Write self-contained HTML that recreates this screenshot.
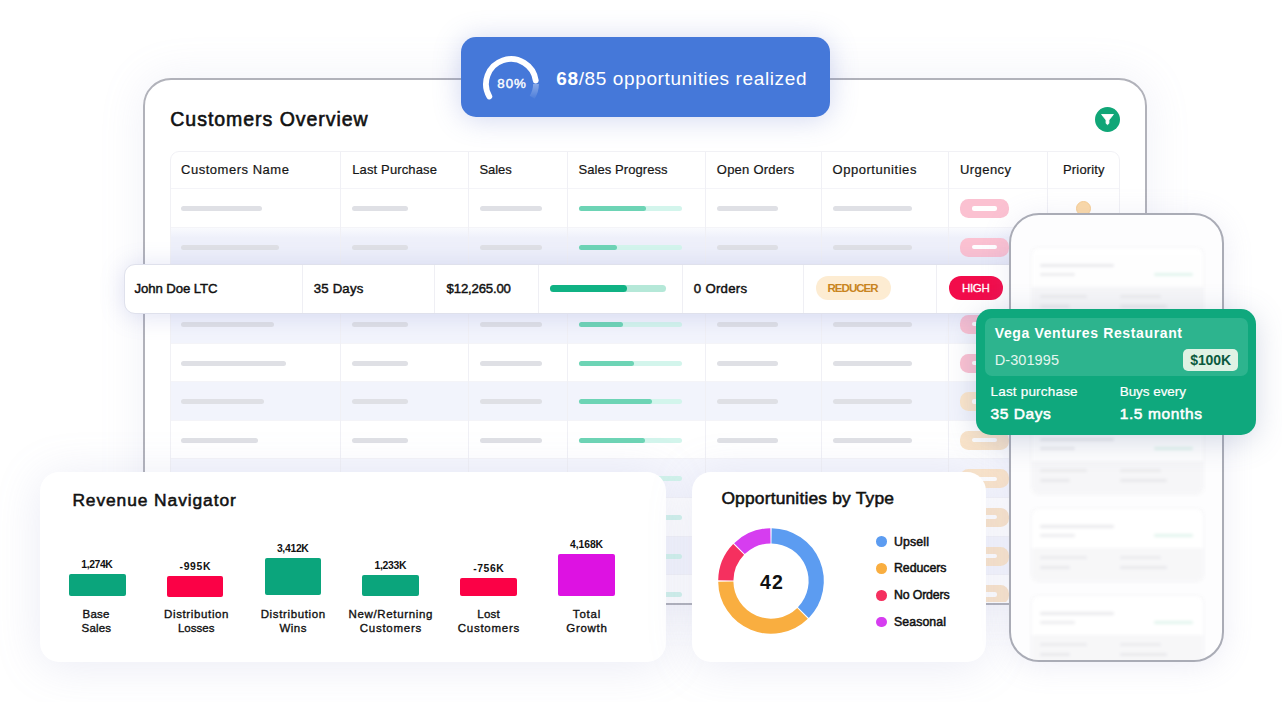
<!DOCTYPE html>
<html>
<head>
<meta charset="utf-8">
<title>Dashboard</title>
<style>
*{box-sizing:border-box;margin:0;padding:0}
html,body{width:1282px;height:702px;overflow:hidden;background:#fff}
body{font-family:"Liberation Sans",sans-serif;color:#111;position:relative}
.a,.t{position:absolute}
.t{white-space:nowrap;line-height:normal}
#main{left:143px;top:77.5px;width:1003.8px;height:527px;border:2.5px solid #b1b2ba;border-radius:28px;background:#fff;box-shadow:0 0 45px rgba(150,155,205,.14)}
#clip{left:145.5px;top:80px;width:998.8px;height:522px;border-radius:25px;overflow:hidden}
#tbl{left:24px;top:70.5px;width:950px;height:470px;border:1px solid #f1f1f5;border-radius:9px 9px 0 0;overflow:hidden;background:#fff}
.row{position:absolute;left:0;width:950px;height:38.6px}
.alt{background:#f2f4fc}
.vl{position:absolute;top:0;width:1px;height:470px;background:#f0f0f5}
.hl{position:absolute;left:0;width:950px;height:1px;background:#f4f4f8}
.sk{position:absolute;height:5px;border-radius:3px;background:#dfe0e5}
.pt{position:absolute;height:5px;border-radius:3px;background:#d3f5ec}
.pf{position:absolute;height:5px;border-radius:3px;background:#6dd4b5}
.up{position:absolute;width:49px;height:19px;border-radius:8.5px}
.up i{position:absolute;left:11.5px;top:7.4px;width:25px;height:4.2px;border-radius:2.1px;background:#fff}
.card{position:absolute;background:#fff;border-radius:19px;box-shadow:0 4px 46px rgba(140,145,200,.18)}
</style>
</head>
<body>

<div id="main" class="a"></div>
<div id="clip" class="a">
<div id="tbl" class="a">
<div class="row" style="top:37.20px"></div>
<div class="row alt" style="top:75.80px;background:linear-gradient(#fafbfe,#eef0fa 28%)"></div>
<div class="row" style="top:114.40px"></div>
<div class="row alt" style="top:153.00px"></div>
<div class="row" style="top:191.60px"></div>
<div class="row alt" style="top:230.20px"></div>
<div class="row" style="top:268.80px"></div>
<div class="row alt" style="top:307.40px;background:#f6f7fd"></div>
<div class="row" style="top:346.00px"></div>
<div class="row alt" style="top:384.60px;background:#f6f7fd"></div>
<div class="row" style="top:423.20px"></div>
<div class="row alt" style="top:461.80px;background:#f6f7fd"></div>
<div class="hl" style="top:36.70px"></div>
<div class="hl" style="top:75.30px"></div>
<div class="hl" style="top:113.90px"></div>
<div class="hl" style="top:152.50px"></div>
<div class="hl" style="top:191.10px"></div>
<div class="hl" style="top:229.70px"></div>
<div class="hl" style="top:268.30px"></div>
<div class="hl" style="top:306.90px"></div>
<div class="hl" style="top:345.50px"></div>
<div class="hl" style="top:384.10px"></div>
<div class="hl" style="top:422.70px"></div>
<div class="hl" style="top:461.30px"></div>
<div class="vl" style="left:169.40px"></div>
<div class="vl" style="left:297.40px"></div>
<div class="vl" style="left:396.20px"></div>
<div class="vl" style="left:534.20px"></div>
<div class="vl" style="left:650.40px"></div>
<div class="vl" style="left:777.20px"></div>
<div class="vl" style="left:876.20px"></div>
<div class="sk" style="left:10.5px;top:54.60px;width:81px"></div>
<div class="sk" style="left:181.7px;top:54.60px;width:56px"></div>
<div class="sk" style="left:309.1px;top:54.60px;width:62px"></div>
<div class="pt" style="left:408.0px;top:54.60px;width:103px"></div>
<div class="pf" style="left:408.0px;top:54.60px;width:67px"></div>
<div class="sk" style="left:546.3px;top:54.60px;width:61.5px"></div>
<div class="sk" style="left:662.0px;top:54.60px;width:79px"></div>
<div class="up" style="left:789.5px;top:47.60px;background:#fbc1d1"><i></i></div>
<div class="a" style="left:905.4px;top:49.60px;width:15px;height:15px;border-radius:50%;background:#fbd9a8;border:1px solid #f6cd93"></div>
<div class="sk" style="left:10.5px;top:93.20px;width:97.5px"></div>
<div class="sk" style="left:181.7px;top:93.20px;width:56px"></div>
<div class="sk" style="left:309.1px;top:93.20px;width:62px"></div>
<div class="pt" style="left:408.0px;top:93.20px;width:103px"></div>
<div class="pf" style="left:408.0px;top:93.20px;width:38.5px"></div>
<div class="sk" style="left:546.3px;top:93.20px;width:61.5px"></div>
<div class="sk" style="left:662.0px;top:93.20px;width:79px"></div>
<div class="up" style="left:789.5px;top:86.20px;background:#fbc1d1"><i></i></div>
<div class="a" style="left:905.4px;top:88.20px;width:15px;height:15px;border-radius:50%;background:#fbd9a8;border:1px solid #f6cd93"></div>
<div class="sk" style="left:10.5px;top:170.40px;width:93.2px"></div>
<div class="sk" style="left:181.7px;top:170.40px;width:56px"></div>
<div class="sk" style="left:309.1px;top:170.40px;width:62px"></div>
<div class="pt" style="left:408.0px;top:170.40px;width:103px"></div>
<div class="pf" style="left:408.0px;top:170.40px;width:44px"></div>
<div class="sk" style="left:546.3px;top:170.40px;width:61.5px"></div>
<div class="sk" style="left:662.0px;top:170.40px;width:79px"></div>
<div class="up" style="left:789.5px;top:163.40px;background:#fbc1d1"><i></i></div>
<div class="a" style="left:905.4px;top:165.40px;width:15px;height:15px;border-radius:50%;background:#fbd9a8;border:1px solid #f6cd93"></div>
<div class="sk" style="left:10.5px;top:209.00px;width:104.5px"></div>
<div class="sk" style="left:181.7px;top:209.00px;width:56px"></div>
<div class="sk" style="left:309.1px;top:209.00px;width:62px"></div>
<div class="pt" style="left:408.0px;top:209.00px;width:103px"></div>
<div class="pf" style="left:408.0px;top:209.00px;width:55px"></div>
<div class="sk" style="left:546.3px;top:209.00px;width:61.5px"></div>
<div class="sk" style="left:662.0px;top:209.00px;width:79px"></div>
<div class="up" style="left:789.5px;top:202.00px;background:#fbc1d1"><i></i></div>
<div class="a" style="left:905.4px;top:204.00px;width:15px;height:15px;border-radius:50%;background:#fbd9a8;border:1px solid #f6cd93"></div>
<div class="sk" style="left:10.5px;top:247.60px;width:82.6px"></div>
<div class="sk" style="left:181.7px;top:247.60px;width:56px"></div>
<div class="sk" style="left:309.1px;top:247.60px;width:62px"></div>
<div class="pt" style="left:408.0px;top:247.60px;width:103px"></div>
<div class="pf" style="left:408.0px;top:247.60px;width:73px"></div>
<div class="sk" style="left:546.3px;top:247.60px;width:61.5px"></div>
<div class="sk" style="left:662.0px;top:247.60px;width:79px"></div>
<div class="up" style="left:789.5px;top:240.60px;background:#fbe5ca"><i></i></div>
<div class="a" style="left:905.4px;top:242.60px;width:15px;height:15px;border-radius:50%;background:#fbd9a8;border:1px solid #f6cd93"></div>
<div class="sk" style="left:10.5px;top:286.20px;width:77px"></div>
<div class="sk" style="left:181.7px;top:286.20px;width:56px"></div>
<div class="sk" style="left:309.1px;top:286.20px;width:62px"></div>
<div class="pt" style="left:408.0px;top:286.20px;width:103px"></div>
<div class="pf" style="left:408.0px;top:286.20px;width:66px"></div>
<div class="sk" style="left:546.3px;top:286.20px;width:61.5px"></div>
<div class="sk" style="left:662.0px;top:286.20px;width:79px"></div>
<div class="up" style="left:789.5px;top:279.20px;background:#fbe5ca"><i></i></div>
<div class="a" style="left:905.4px;top:281.20px;width:15px;height:15px;border-radius:50%;background:#fbd9a8;border:1px solid #f6cd93"></div>
<div class="sk" style="left:10.5px;top:324.80px;width:88px"></div>
<div class="sk" style="left:181.7px;top:324.80px;width:56px"></div>
<div class="sk" style="left:309.1px;top:324.80px;width:62px"></div>
<div class="pt" style="left:408.0px;top:324.80px;width:103px"></div>
<div class="pf" style="left:408.0px;top:324.80px;width:50px"></div>
<div class="sk" style="left:546.3px;top:324.80px;width:61.5px"></div>
<div class="sk" style="left:662.0px;top:324.80px;width:79px"></div>
<div class="up" style="left:789.5px;top:317.80px;background:#fbe5ca"><i></i></div>
<div class="a" style="left:905.4px;top:319.80px;width:15px;height:15px;border-radius:50%;background:#fbd9a8;border:1px solid #f6cd93"></div>
<div class="sk" style="left:10.5px;top:363.40px;width:95px"></div>
<div class="sk" style="left:181.7px;top:363.40px;width:56px"></div>
<div class="sk" style="left:309.1px;top:363.40px;width:62px"></div>
<div class="pt" style="left:408.0px;top:363.40px;width:103px"></div>
<div class="pf" style="left:408.0px;top:363.40px;width:62px"></div>
<div class="sk" style="left:546.3px;top:363.40px;width:61.5px"></div>
<div class="sk" style="left:662.0px;top:363.40px;width:79px"></div>
<div class="up" style="left:789.5px;top:356.40px;background:#fbe5ca"><i></i></div>
<div class="a" style="left:905.4px;top:358.40px;width:15px;height:15px;border-radius:50%;background:#fbd9a8;border:1px solid #f6cd93"></div>
<div class="sk" style="left:10.5px;top:402.00px;width:80px"></div>
<div class="sk" style="left:181.7px;top:402.00px;width:56px"></div>
<div class="sk" style="left:309.1px;top:402.00px;width:62px"></div>
<div class="pt" style="left:408.0px;top:402.00px;width:103px"></div>
<div class="pf" style="left:408.0px;top:402.00px;width:45px"></div>
<div class="sk" style="left:546.3px;top:402.00px;width:61.5px"></div>
<div class="sk" style="left:662.0px;top:402.00px;width:79px"></div>
<div class="up" style="left:789.5px;top:395.00px;background:#fbe5ca"><i></i></div>
<div class="a" style="left:905.4px;top:397.00px;width:15px;height:15px;border-radius:50%;background:#fbd9a8;border:1px solid #f6cd93"></div>
<div class="sk" style="left:10.5px;top:440.60px;width:92px"></div>
<div class="sk" style="left:181.7px;top:440.60px;width:56px"></div>
<div class="sk" style="left:309.1px;top:440.60px;width:62px"></div>
<div class="pt" style="left:408.0px;top:440.60px;width:103px"></div>
<div class="pf" style="left:408.0px;top:440.60px;width:70px"></div>
<div class="sk" style="left:546.3px;top:440.60px;width:61.5px"></div>
<div class="sk" style="left:662.0px;top:440.60px;width:79px"></div>
<div class="up" style="left:789.5px;top:433.60px;background:#fbe5ca"><i></i></div>
<div class="a" style="left:905.4px;top:435.60px;width:15px;height:15px;border-radius:50%;background:#fbd9a8;border:1px solid #f6cd93"></div>
<div class="sk" style="left:10.5px;top:479.20px;width:85px"></div>
<div class="sk" style="left:181.7px;top:479.20px;width:56px"></div>
<div class="sk" style="left:309.1px;top:479.20px;width:62px"></div>
<div class="pt" style="left:408.0px;top:479.20px;width:103px"></div>
<div class="pf" style="left:408.0px;top:479.20px;width:52px"></div>
<div class="sk" style="left:546.3px;top:479.20px;width:61.5px"></div>
<div class="sk" style="left:662.0px;top:479.20px;width:79px"></div>
<div class="up" style="left:789.5px;top:472.20px;background:#fbe5ca"><i></i></div>
<div class="a" style="left:905.4px;top:474.20px;width:15px;height:15px;border-radius:50%;background:#fbd9a8;border:1px solid #f6cd93"></div>
</div>
</div>
<div class="t" style="left:170.30px;top:107.74px;font-size:19.5px;font-weight:normal;letter-spacing:0.967px;color:#111;-webkit-text-stroke:0.6px #111;">Customers Overview</div>
<div class="t" style="left:181.00px;top:162.03px;font-size:13px;font-weight:normal;letter-spacing:0.520px;color:#161616;-webkit-text-stroke:0.2px #161616;">Customers Name</div>
<div class="t" style="left:352.20px;top:162.03px;font-size:13px;font-weight:normal;letter-spacing:0.141px;color:#161616;-webkit-text-stroke:0.2px #161616;">Last Purchase</div>
<div class="t" style="left:479.40px;top:162.03px;font-size:13px;font-weight:normal;letter-spacing:-0.055px;color:#161616;-webkit-text-stroke:0.2px #161616;">Sales</div>
<div class="t" style="left:578.50px;top:162.03px;font-size:13px;font-weight:normal;letter-spacing:0.073px;color:#161616;-webkit-text-stroke:0.2px #161616;">Sales Progress</div>
<div class="t" style="left:716.80px;top:162.03px;font-size:13px;font-weight:normal;letter-spacing:0.236px;color:#161616;-webkit-text-stroke:0.2px #161616;">Open Orders</div>
<div class="t" style="left:832.50px;top:162.03px;font-size:13px;font-weight:normal;letter-spacing:0.548px;color:#161616;-webkit-text-stroke:0.2px #161616;">Opportunities</div>
<div class="t" style="left:960.00px;top:162.03px;font-size:13px;font-weight:normal;letter-spacing:0.432px;color:#161616;-webkit-text-stroke:0.2px #161616;">Urgency</div>
<div class="t" style="left:1063.00px;top:162.03px;font-size:13px;font-weight:normal;letter-spacing:0.165px;color:#161616;-webkit-text-stroke:0.2px #161616;">Priority</div>
<div class="a" style="left:1095px;top:106.8px;width:25px;height:25px;border-radius:50%;background:#10a677"></div>
<svg class="a" style="left:1095px;top:106.8px" width="25" height="25" viewBox="0 0 25 25"><path d="M6.6 7.5 H18.4 L13.9 13 V16.4 L12.5 17.6 L11.1 16.4 V13 Z" fill="#fff" stroke="#fff" stroke-width="0.9" stroke-linejoin="round"/></svg>
<div class="a" style="left:123.5px;top:263.6px;width:900px;height:50.3px;background:#fff;border:1px solid #dfe1ec;border-radius:11px;box-shadow:0 2px 24px rgba(110,120,200,.22)"></div>
<div class="a" style="left:301.5px;top:264.6px;width:1px;height:48.3px;background:#efeff4"></div>
<div class="a" style="left:433.5px;top:264.6px;width:1px;height:48.3px;background:#efeff4"></div>
<div class="a" style="left:537.5px;top:264.6px;width:1px;height:48.3px;background:#efeff4"></div>
<div class="a" style="left:681.5px;top:264.6px;width:1px;height:48.3px;background:#efeff4"></div>
<div class="a" style="left:803.1px;top:264.6px;width:1px;height:48.3px;background:#efeff4"></div>
<div class="a" style="left:936.3px;top:264.6px;width:1px;height:48.3px;background:#efeff4"></div>
<div class="t" style="left:134.40px;top:280.64px;font-size:13.2px;font-weight:normal;letter-spacing:-0.085px;color:#111;-webkit-text-stroke:0.45px #111;">John Doe LTC</div>
<div class="t" style="left:313.80px;top:280.64px;font-size:13.2px;font-weight:normal;letter-spacing:0.179px;color:#111;-webkit-text-stroke:0.45px #111;">35 Days</div>
<div class="t" style="left:446.60px;top:280.64px;font-size:13.2px;font-weight:normal;letter-spacing:-0.185px;color:#111;-webkit-text-stroke:0.45px #111;">$12,265.00</div>
<div class="t" style="left:693.80px;top:280.64px;font-size:13.2px;font-weight:normal;letter-spacing:0.293px;color:#111;-webkit-text-stroke:0.45px #111;">0 Orders</div>
<div class="a" style="left:549.5px;top:284.6px;width:116px;height:7.4px;border-radius:4px;background:#b5e8d8"></div>
<div class="a" style="left:549.5px;top:284.6px;width:77px;height:7.4px;border-radius:4px;background:#10b284"></div>
<div class="a" style="left:815.5px;top:276.4px;width:75.4px;height:23.6px;border-radius:12px;background:#fdecd2"></div>
<div class="t" style="left:827.50px;top:281.71px;font-size:11.5px;font-weight:bold;letter-spacing:-0.961px;color:#c88420;">REDUCER</div>
<div class="a" style="left:948.5px;top:276.2px;width:54.6px;height:24px;border-radius:12px;background:#f20c4b"></div>
<div class="t" style="left:962.00px;top:281.91px;font-size:11.5px;font-weight:normal;letter-spacing:-0.350px;color:#fff;-webkit-text-stroke:0.3px #fff;">HIGH</div>
<div class="a" style="left:461px;top:37px;width:369px;height:80px;border-radius:15px;background:#4578d9;box-shadow:0 2px 28px rgba(90,110,200,.28)"></div>
<svg class="a" style="left:480px;top:53px" width="62" height="62" viewBox="0 0 62 62">
<path d="M9.35 43.5 A25 25 0 1 1 55.76 27.52" fill="none" stroke="#fff" stroke-width="5.8" stroke-linecap="round"/>
<defs><linearGradient id="gf" x1="0" y1="30" x2="0" y2="46" gradientUnits="userSpaceOnUse"><stop offset="0" stop-color="#fff" stop-opacity=".38"/><stop offset="1" stop-color="#fff" stop-opacity=".04"/></linearGradient></defs><path d="M56 31 A25 25 0 0 1 52.2 44.2" fill="none" stroke="url(#gf)" stroke-width="5.8" stroke-linecap="butt"/>
</svg>
<div class="t" style="left:497.30px;top:75.95px;font-size:13.3px;font-weight:normal;letter-spacing:0.990px;color:#fff;-webkit-text-stroke:0.4px #fff;">80%</div>
<div class="t" style="left:556.3px;top:67.6px;font-size:19px;color:#fff;letter-spacing:0.62px"><b>68</b>/85 opportunities realized</div>
<div class="card" style="left:40px;top:472px;width:625.5px;height:190px"></div>
<div class="t" style="left:72.40px;top:489.67px;font-size:17.4px;font-weight:normal;letter-spacing:0.909px;color:#111;-webkit-text-stroke:0.55px #111;">Revenue Navigator</div>
<div class="a" style="left:68.6px;top:573.5px;width:57.0px;height:22.1px;background:#0ba57c;border-radius:2px"></div>
<div class="t" style="left:81.35px;top:558.62px;font-size:10.4px;font-weight:bold;letter-spacing:-0.407px;color:#111;">1,274K</div>
<div class="t" style="left:82.50px;top:607.71px;font-size:11.5px;font-weight:normal;letter-spacing:0.263px;color:#111;-webkit-text-stroke:0.35px #111;">Base</div>
<div class="t" style="left:81.55px;top:621.61px;font-size:11.5px;font-weight:normal;letter-spacing:0.183px;color:#111;-webkit-text-stroke:0.35px #111;">Sales</div>
<div class="a" style="left:166.7px;top:576px;width:56.7px;height:20.5px;background:#fb0146;border-radius:2px"></div>
<div class="t" style="left:179.55px;top:561.12px;font-size:10.4px;font-weight:bold;letter-spacing:0.668px;color:#111;">-995K</div>
<div class="t" style="left:164.00px;top:607.71px;font-size:11.5px;font-weight:normal;letter-spacing:0.634px;color:#111;-webkit-text-stroke:0.35px #111;">Distribution</div>
<div class="t" style="left:177.95px;top:621.61px;font-size:11.5px;font-weight:normal;letter-spacing:0.013px;color:#111;-webkit-text-stroke:0.35px #111;">Losses</div>
<div class="a" style="left:264.5px;top:558px;width:56.8px;height:37.2px;background:#0ba57c;border-radius:2px"></div>
<div class="t" style="left:276.90px;top:543.02px;font-size:10.4px;font-weight:bold;letter-spacing:-0.307px;color:#111;">3,412K</div>
<div class="t" style="left:260.65px;top:607.71px;font-size:11.5px;font-weight:normal;letter-spacing:0.634px;color:#111;-webkit-text-stroke:0.35px #111;">Distribution</div>
<div class="t" style="left:279.40px;top:621.61px;font-size:11.5px;font-weight:normal;letter-spacing:0.482px;color:#111;-webkit-text-stroke:0.35px #111;">Wins</div>
<div class="a" style="left:362px;top:574.7px;width:57.0px;height:21.7px;background:#0ba57c;border-radius:2px"></div>
<div class="t" style="left:374.50px;top:559.92px;font-size:10.4px;font-weight:bold;letter-spacing:-0.307px;color:#111;">1,233K</div>
<div class="t" style="left:348.50px;top:607.71px;font-size:11.5px;font-weight:normal;letter-spacing:0.661px;color:#111;-webkit-text-stroke:0.35px #111;">New/Returning</div>
<div class="t" style="left:359.75px;top:621.61px;font-size:11.5px;font-weight:normal;letter-spacing:0.738px;color:#111;-webkit-text-stroke:0.35px #111;">Customers</div>
<div class="a" style="left:460px;top:577.5px;width:57.0px;height:18.9px;background:#fb0146;border-radius:2px"></div>
<div class="t" style="left:473.25px;top:562.82px;font-size:10.4px;font-weight:bold;letter-spacing:0.543px;color:#111;">-756K</div>
<div class="t" style="left:477.25px;top:607.71px;font-size:11.5px;font-weight:normal;letter-spacing:0.254px;color:#111;-webkit-text-stroke:0.35px #111;">Lost</div>
<div class="t" style="left:457.75px;top:621.61px;font-size:11.5px;font-weight:normal;letter-spacing:0.738px;color:#111;-webkit-text-stroke:0.35px #111;">Customers</div>
<div class="a" style="left:558.2px;top:554px;width:56.8px;height:41.8px;background:#dd12e2;border-radius:2px"></div>
<div class="t" style="left:570.10px;top:539.12px;font-size:10.4px;font-weight:bold;letter-spacing:-0.107px;color:#111;">4,168K</div>
<div class="t" style="left:572.85px;top:607.71px;font-size:11.5px;font-weight:normal;letter-spacing:0.802px;color:#111;-webkit-text-stroke:0.35px #111;">Total</div>
<div class="t" style="left:566.35px;top:621.61px;font-size:11.5px;font-weight:normal;letter-spacing:0.687px;color:#111;-webkit-text-stroke:0.35px #111;">Growth</div>
<div class="card" style="left:692px;top:472px;width:293.6px;height:190px"></div>
<div class="t" style="left:721.40px;top:487.97px;font-size:17.4px;font-weight:normal;letter-spacing:0.183px;color:#111;-webkit-text-stroke:0.55px #111;">Opportunities by Type</div>
<svg class="a" style="left:711px;top:521px" width="120" height="120" viewBox="0 0 120 120">
<path d="M60.55 14.80 A45.2 45.2 0 0 1 92.35 91.57" fill="none" stroke="#5c9cf1" stroke-width="15.2"/>
<path d="M91.57 92.35 A45.2 45.2 0 0 1 14.80 60.55" fill="none" stroke="#f9ae40" stroke-width="15.2"/>
<path d="M14.80 59.45 A45.2 45.2 0 0 1 27.65 28.43" fill="none" stroke="#f5305f" stroke-width="15.2"/>
<path d="M28.43 27.65 A45.2 45.2 0 0 1 59.45 14.80" fill="none" stroke="#d63df0" stroke-width="15.2"/>
</svg>
<div class="t" style="left:760.00px;top:571.24px;font-size:19.5px;font-weight:bold;letter-spacing:1.110px;color:#111;">42</div>
<div class="a" style="left:876.0px;top:536.2px;width:10.6px;height:10.6px;border-radius:50%;background:#5c9cf1"></div>
<div class="t" style="left:894.00px;top:534.57px;font-size:12.3px;font-weight:normal;letter-spacing:0.164px;color:#111;-webkit-text-stroke:0.5px #111;">Upsell</div>
<div class="a" style="left:876.0px;top:563.1px;width:10.6px;height:10.6px;border-radius:50%;background:#f9ae40"></div>
<div class="t" style="left:894.00px;top:561.47px;font-size:12.3px;font-weight:normal;letter-spacing:-0.020px;color:#111;-webkit-text-stroke:0.5px #111;">Reducers</div>
<div class="a" style="left:876.0px;top:590.0px;width:10.6px;height:10.6px;border-radius:50%;background:#f5305f"></div>
<div class="t" style="left:894.00px;top:588.37px;font-size:12.3px;font-weight:normal;letter-spacing:-0.141px;color:#111;-webkit-text-stroke:0.5px #111;">No Orders</div>
<div class="a" style="left:876.0px;top:616.9px;width:10.6px;height:10.6px;border-radius:50%;background:#d63df0"></div>
<div class="t" style="left:894.00px;top:615.27px;font-size:12.3px;font-weight:normal;letter-spacing:0.101px;color:#111;-webkit-text-stroke:0.5px #111;">Seasonal</div>
<div class="a" style="left:1009px;top:212.5px;width:215px;height:449.5px;border:2.5px solid #aaacb6;border-radius:30px;background:#fdfdfe;box-shadow:0 4px 30px rgba(140,145,200,.16);overflow:hidden">
<div class="a" style="left:0;top:0;width:210px;height:445px;filter:blur(1.7px);opacity:.8">
<div class="a" style="left:20.7px;top:33px;width:171px;height:72px;border-radius:7px;background:#f5f5f7;box-shadow:0 0 5px rgba(0,0,0,.06)"></div>
<div class="a" style="left:20.7px;top:33px;width:171px;height:39.5px;border-radius:7px 7px 0 0;background:#fff"></div>
<div class="a" style="left:28.5px;top:49.0px;width:74.7px;height:3px;border-radius:1.5px;background:#e6e6e9"></div>
<div class="a" style="left:28.5px;top:58.0px;width:35.0px;height:3px;border-radius:1.5px;background:#e9e9ec"></div>
<div class="a" style="left:142.5px;top:58.0px;width:39.7px;height:3px;border-radius:1.5px;background:#dcf3ea"></div>
<div class="a" style="left:28.5px;top:80.0px;width:47.0px;height:3px;border-radius:1.5px;background:#e7e7ea"></div>
<div class="a" style="left:108.5px;top:80.0px;width:41.0px;height:3px;border-radius:1.5px;background:#e7e7ea"></div>
<div class="a" style="left:28.5px;top:90.5px;width:30.7px;height:3px;border-radius:1.5px;background:#e4e4e8"></div>
<div class="a" style="left:108.5px;top:90.5px;width:47.0px;height:3px;border-radius:1.5px;background:#e4e4e8"></div>
<div class="a" style="left:20.7px;top:120px;width:171px;height:72px;border-radius:7px;background:#f5f5f7;box-shadow:0 0 5px rgba(0,0,0,.06)"></div>
<div class="a" style="left:20.7px;top:120px;width:171px;height:39.5px;border-radius:7px 7px 0 0;background:#fff"></div>
<div class="a" style="left:28.5px;top:136.0px;width:74.7px;height:3px;border-radius:1.5px;background:#e6e6e9"></div>
<div class="a" style="left:28.5px;top:145.0px;width:35.0px;height:3px;border-radius:1.5px;background:#e9e9ec"></div>
<div class="a" style="left:142.5px;top:145.0px;width:39.7px;height:3px;border-radius:1.5px;background:#dcf3ea"></div>
<div class="a" style="left:28.5px;top:167.0px;width:47.0px;height:3px;border-radius:1.5px;background:#e7e7ea"></div>
<div class="a" style="left:108.5px;top:167.0px;width:41.0px;height:3px;border-radius:1.5px;background:#e7e7ea"></div>
<div class="a" style="left:28.5px;top:177.5px;width:30.7px;height:3px;border-radius:1.5px;background:#e4e4e8"></div>
<div class="a" style="left:108.5px;top:177.5px;width:47.0px;height:3px;border-radius:1.5px;background:#e4e4e8"></div>
<div class="a" style="left:20.7px;top:207px;width:171px;height:72px;border-radius:7px;background:#f5f5f7;box-shadow:0 0 5px rgba(0,0,0,.06)"></div>
<div class="a" style="left:20.7px;top:207px;width:171px;height:39.5px;border-radius:7px 7px 0 0;background:#fff"></div>
<div class="a" style="left:28.5px;top:223.0px;width:74.7px;height:3px;border-radius:1.5px;background:#e6e6e9"></div>
<div class="a" style="left:28.5px;top:232.0px;width:35.0px;height:3px;border-radius:1.5px;background:#e9e9ec"></div>
<div class="a" style="left:142.5px;top:232.0px;width:39.7px;height:3px;border-radius:1.5px;background:#dcf3ea"></div>
<div class="a" style="left:28.5px;top:254.0px;width:47.0px;height:3px;border-radius:1.5px;background:#e7e7ea"></div>
<div class="a" style="left:108.5px;top:254.0px;width:41.0px;height:3px;border-radius:1.5px;background:#e7e7ea"></div>
<div class="a" style="left:28.5px;top:264.5px;width:30.7px;height:3px;border-radius:1.5px;background:#e4e4e8"></div>
<div class="a" style="left:108.5px;top:264.5px;width:47.0px;height:3px;border-radius:1.5px;background:#e4e4e8"></div>
<div class="a" style="left:20.7px;top:294px;width:171px;height:72px;border-radius:7px;background:#f5f5f7;box-shadow:0 0 5px rgba(0,0,0,.06)"></div>
<div class="a" style="left:20.7px;top:294px;width:171px;height:39.5px;border-radius:7px 7px 0 0;background:#fff"></div>
<div class="a" style="left:28.5px;top:310.0px;width:74.7px;height:3px;border-radius:1.5px;background:#e6e6e9"></div>
<div class="a" style="left:28.5px;top:319.0px;width:35.0px;height:3px;border-radius:1.5px;background:#e9e9ec"></div>
<div class="a" style="left:142.5px;top:319.0px;width:39.7px;height:3px;border-radius:1.5px;background:#dcf3ea"></div>
<div class="a" style="left:28.5px;top:341.0px;width:47.0px;height:3px;border-radius:1.5px;background:#e7e7ea"></div>
<div class="a" style="left:108.5px;top:341.0px;width:41.0px;height:3px;border-radius:1.5px;background:#e7e7ea"></div>
<div class="a" style="left:28.5px;top:351.5px;width:30.7px;height:3px;border-radius:1.5px;background:#e4e4e8"></div>
<div class="a" style="left:108.5px;top:351.5px;width:47.0px;height:3px;border-radius:1.5px;background:#e4e4e8"></div>
<div class="a" style="left:20.7px;top:381px;width:171px;height:72px;border-radius:7px;background:#f5f5f7;box-shadow:0 0 5px rgba(0,0,0,.06)"></div>
<div class="a" style="left:20.7px;top:381px;width:171px;height:39.5px;border-radius:7px 7px 0 0;background:#fff"></div>
<div class="a" style="left:28.5px;top:397.0px;width:74.7px;height:3px;border-radius:1.5px;background:#e6e6e9"></div>
<div class="a" style="left:28.5px;top:406.0px;width:35.0px;height:3px;border-radius:1.5px;background:#e9e9ec"></div>
<div class="a" style="left:142.5px;top:406.0px;width:39.7px;height:3px;border-radius:1.5px;background:#dcf3ea"></div>
<div class="a" style="left:28.5px;top:428.0px;width:47.0px;height:3px;border-radius:1.5px;background:#e7e7ea"></div>
<div class="a" style="left:108.5px;top:428.0px;width:41.0px;height:3px;border-radius:1.5px;background:#e7e7ea"></div>
<div class="a" style="left:28.5px;top:438.5px;width:30.7px;height:3px;border-radius:1.5px;background:#e4e4e8"></div>
<div class="a" style="left:108.5px;top:438.5px;width:47.0px;height:3px;border-radius:1.5px;background:#e4e4e8"></div>
</div></div>
<div class="a" style="left:975.8px;top:309px;width:280.6px;height:125.8px;border-radius:15px;background:#0fa87d;box-shadow:0 6px 30px rgba(90,110,160,.25)"></div>
<div class="a" style="left:985.2px;top:317.8px;width:262.5px;height:58px;border-radius:7px;background:#2db48e"></div>
<div class="t" style="left:994.70px;top:324.71px;font-size:14px;font-weight:bold;letter-spacing:0.633px;color:#fff;">Vega Ventures Restaurant</div>
<div class="t" style="left:994.70px;top:351.95px;font-size:14.5px;font-weight:normal;letter-spacing:0.088px;color:#e4f6ef;">D-301995</div>
<div class="a" style="left:1183.2px;top:348.8px;width:54.8px;height:22px;border-radius:5px;background:#dff2e4"></div>
<div class="t" style="left:1190.30px;top:351.91px;font-size:14px;font-weight:bold;letter-spacing:-0.139px;color:#0b5a3d;">$100K</div>
<div class="t" style="left:990.50px;top:384.17px;font-size:13.5px;font-weight:normal;letter-spacing:0.191px;color:#fff;-webkit-text-stroke:0.2px #fff;">Last purchase</div>
<div class="t" style="left:990.50px;top:404.72px;font-size:15.5px;font-weight:normal;letter-spacing:0.556px;color:#fff;-webkit-text-stroke:0.55px #fff;">35 Days</div>
<div class="t" style="left:1119.70px;top:384.17px;font-size:13.5px;font-weight:normal;letter-spacing:-0.053px;color:#fff;-webkit-text-stroke:0.2px #fff;">Buys every</div>
<div class="t" style="left:1119.70px;top:404.72px;font-size:15.5px;font-weight:normal;letter-spacing:0.613px;color:#fff;-webkit-text-stroke:0.55px #fff;">1.5 months</div>
</body></html>
